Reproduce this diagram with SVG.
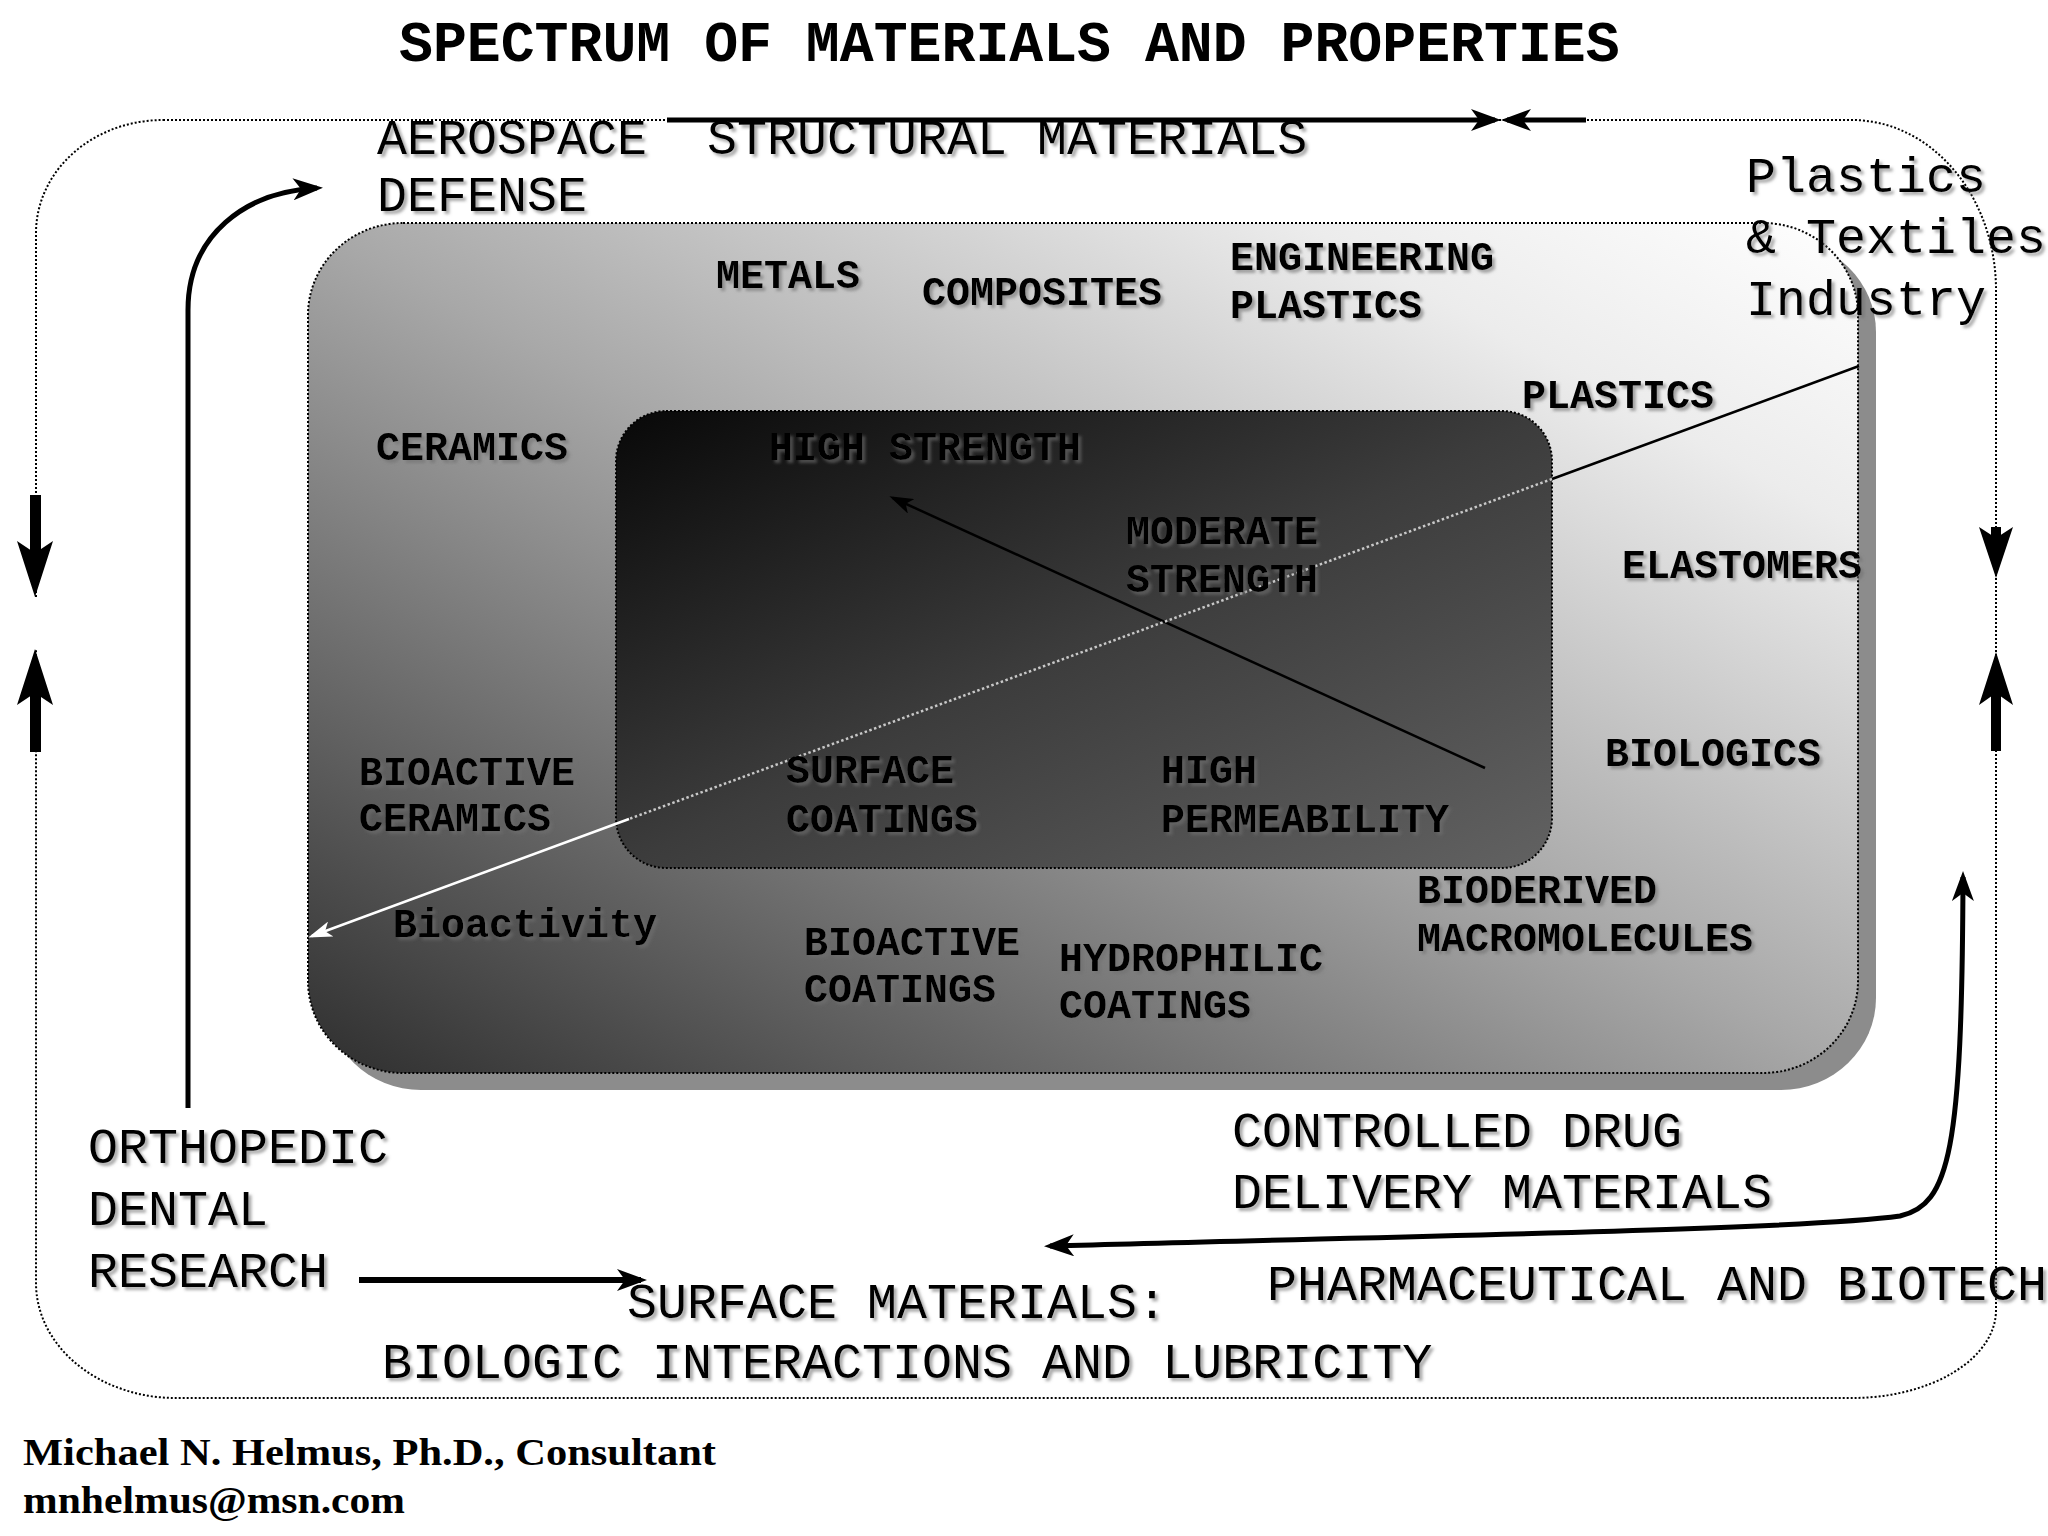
<svg xmlns="http://www.w3.org/2000/svg" width="2048" height="1536" viewBox="0 0 2048 1536">
<defs>
  <linearGradient id="gMid" x1="0" y1="1" x2="1" y2="0">
    <stop offset="0" stop-color="#2e2e2e"/>
    <stop offset="0.5" stop-color="#a8a8a8"/>
    <stop offset="0.82" stop-color="#ececec"/>
    <stop offset="1" stop-color="#ffffff"/>
  </linearGradient>
  <linearGradient id="gIn" x1="0" y1="0" x2="1" y2="1">
    <stop offset="0" stop-color="#080808"/>
    <stop offset="0.5" stop-color="#3c3c3c"/>
    <stop offset="1" stop-color="#626262"/>
  </linearGradient>
  <filter id="ts" x="-5%" y="-20%" width="115%" height="160%">
    <feDropShadow dx="3" dy="3" stdDeviation="1.6" flood-color="#707070" flood-opacity="0.6"/>
  </filter>
  <marker id="ah" viewBox="0 0 30 22" refX="24" refY="11" markerWidth="30" markerHeight="22" markerUnits="userSpaceOnUse" orient="auto-start-reverse">
    <path d="M0,0 L30,11 L0,22 L8,11 z" fill="#000"/>
  </marker>
  <marker id="at" viewBox="0 0 24 16" refX="20" refY="8" markerWidth="24" markerHeight="16" markerUnits="userSpaceOnUse" orient="auto">
    <path d="M0,0 L24,8 L0,16 L6,8 z" fill="#000"/>
  </marker>
  <marker id="aw" viewBox="0 0 24 16" refX="20" refY="8" markerWidth="24" markerHeight="16" markerUnits="userSpaceOnUse" orient="auto">
    <path d="M0,0 L24,8 L0,16 L6,8 z" fill="#fff"/>
  </marker>
  <style>
    .dot { fill: none; stroke: #000; stroke-width: 2; stroke-dasharray: 2 2; }
    .lab { font-family: "Liberation Mono", "Courier New", monospace; font-size: 50px; fill: #000; filter: url(#ts); }
    .bl { font-family: "Liberation Mono", "Courier New", monospace; font-size: 40px; font-weight: bold; fill: #000; filter: url(#ts); }
    .title { font-family: "Liberation Mono", "Courier New", monospace; font-size: 56.5px; font-weight: bold; fill: #000; }
    .foot { font-family: "Liberation Serif", "Times New Roman", serif; font-size: 38px; font-weight: bold; fill: #000; }
    .thick { fill: none; stroke: #000; stroke-width: 5; }
    .thin { fill: none; stroke: #000; stroke-width: 2.5; }
  </style>
</defs>
<rect x="0" y="0" width="2048" height="1536" fill="#fff"/>

<g id="title">
  <text class="title" x="399" y="61">SPECTRUM OF MATERIALS AND PROPERTIES</text>
</g>

<g id="outer-frame">
  <path class="dot" d="M163,120 H1852 A144,170 0 0 1 1996,290 V1310 A144,88 0 0 1 1852,1398 H176 A140,115 0 0 1 36,1283 V649 M36,597 V233 A127,113 0 0 1 163,120"/>
</g>

<g id="materials-box">
  <rect x="326" y="240" width="1550" height="850" rx="95" ry="92" fill="#8c8c8c"/>
  <rect x="308" y="223" width="1550" height="850" rx="95" ry="92" fill="url(#gMid)"/>
  <rect class="dot" x="308" y="223" width="1550" height="850" rx="95" ry="92"/>
</g>

<g id="properties-box">
  <rect x="616" y="411" width="936" height="457" rx="50" ry="50" fill="url(#gIn)"/>
  <rect class="dot" x="616" y="411" width="936" height="457" rx="50" ry="50"/>
</g>

<g id="connectors">
  <line class="thick" x1="667" y1="120" x2="1495" y2="120" marker-end="url(#ah)"/>
  <line class="thick" x1="1586" y1="120" x2="1507" y2="120" marker-end="url(#ah)"/>
  <path class="thick" d="M188,1108 V310 C188,235 245,192 317,188" marker-end="url(#ah)"/>
  <line x1="359" y1="1280" x2="641" y2="1280" stroke="#000" stroke-width="6" marker-end="url(#ah)"/>
  <path class="thick" d="M1050,1246 C1400,1236 1800,1230 1900,1216 C1950,1205 1962,1150 1963,877" marker-start="url(#ah)" marker-end="url(#ah)"/>
  <line class="thin" x1="1485" y1="768" x2="893" y2="498" marker-end="url(#at)"/>
  <line class="thin" x1="1859" y1="366" x2="1552" y2="479"/>
  <line x1="1552" y1="479" x2="629" y2="819" stroke="#c8c8c8" stroke-width="2.5" stroke-dasharray="2.5 2.5"/>
  <line x1="629" y1="819" x2="312" y2="936" stroke="#fff" stroke-width="2.5" marker-end="url(#aw)"/>
  <rect x="30" y="495" width="11" height="60" fill="#000"/>
  <polygon points="17,541 35,553 53,541 35,597" fill="#000"/>
  <rect x="30" y="690" width="11" height="62" fill="#000"/>
  <polygon points="17,705 35,693 53,705 35,649" fill="#000"/>
  <rect x="1991" y="527" width="10" height="16" fill="#000"/>
  <polygon points="1979,527 1996,538 2013,527 1996,578" fill="#000"/>
  <rect x="1991" y="690" width="10" height="61" fill="#000"/>
  <polygon points="1979,705 1996,693 2013,705 1996,652" fill="#000"/>
</g>

<g id="aerospace">
  <text class="lab" x="377" y="154" xml:space="preserve">AEROSPACE  STRUCTURAL MATERIALS</text>
  <text class="lab" x="377" y="211">DEFENSE</text>
</g>
<g id="plastics-textiles">
  <text class="lab" x="1746" y="192">Plastics</text>
  <text class="lab" x="1746" y="253">&amp; Textiles</text>
  <text class="lab" x="1746" y="315">Industry</text>
</g>
<g id="orthopedic">
  <text class="lab" x="88" y="1163">ORTHOPEDIC</text>
  <text class="lab" x="88" y="1225">DENTAL</text>
  <text class="lab" x="88" y="1287">RESEARCH</text>
</g>
<g id="surface-materials">
  <text class="lab" x="627" y="1318">SURFACE MATERIALS:</text>
  <text class="lab" x="382" y="1378">BIOLOGIC INTERACTIONS AND LUBRICITY</text>
</g>
<g id="drug-delivery">
  <text class="lab" x="1232" y="1147">CONTROLLED DRUG</text>
  <text class="lab" x="1232" y="1208">DELIVERY MATERIALS</text>
</g>
<g id="pharma">
  <text class="lab" x="1267" y="1300">PHARMACEUTICAL AND BIOTECH</text>
</g>

<g id="metals"><text class="bl" x="716" y="288">METALS</text></g>
<g id="composites"><text class="bl" x="922" y="305">COMPOSITES</text></g>
<g id="engineering-plastics">
  <text class="bl" x="1230" y="270">ENGINEERING</text>
  <text class="bl" x="1230" y="318">PLASTICS</text>
</g>
<g id="plastics"><text class="bl" x="1522" y="408">PLASTICS</text></g>
<g id="ceramics"><text class="bl" x="376" y="460">CERAMICS</text></g>
<g id="high-strength"><text class="bl" x="769" y="460">HIGH STRENGTH</text></g>
<g id="moderate-strength">
  <text class="bl" x="1126" y="544">MODERATE</text>
  <text class="bl" x="1126" y="592">STRENGTH</text>
</g>
<g id="elastomers"><text class="bl" x="1622" y="578">ELASTOMERS</text></g>
<g id="biologics"><text class="bl" x="1605" y="766">BIOLOGICS</text></g>
<g id="bioactive-ceramics">
  <text class="bl" x="359" y="785">BIOACTIVE</text>
  <text class="bl" x="359" y="831">CERAMICS</text>
</g>
<g id="surface-coatings">
  <text class="bl" x="786" y="783">SURFACE</text>
  <text class="bl" x="786" y="832">COATINGS</text>
</g>
<g id="high-permeability">
  <text class="bl" x="1161" y="783">HIGH</text>
  <text class="bl" x="1161" y="832">PERMEABILITY</text>
</g>
<g id="bioderived">
  <text class="bl" x="1417" y="903">BIODERIVED</text>
  <text class="bl" x="1417" y="951">MACROMOLECULES</text>
</g>
<g id="bioactivity"><text class="bl" x="393" y="937">Bioactivity</text></g>
<g id="bioactive-coatings">
  <text class="bl" x="804" y="955">BIOACTIVE</text>
  <text class="bl" x="804" y="1002">COATINGS</text>
</g>
<g id="hydrophilic-coatings">
  <text class="bl" x="1059" y="971">HYDROPHILIC</text>
  <text class="bl" x="1059" y="1018">COATINGS</text>
</g>

<g id="footer">
  <text class="foot" x="23" y="1465" textLength="693" lengthAdjust="spacingAndGlyphs">Michael N. Helmus, Ph.D., Consultant</text>
  <text class="foot" x="23" y="1513" textLength="382" lengthAdjust="spacingAndGlyphs">mnhelmus@msn.com</text>
</g>
</svg>
